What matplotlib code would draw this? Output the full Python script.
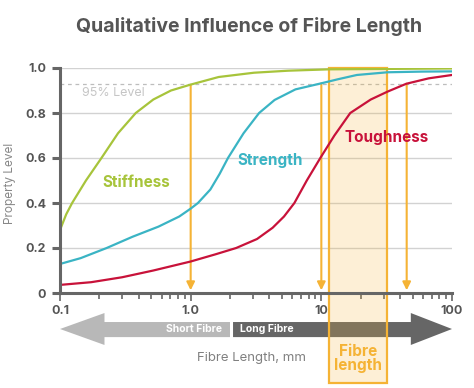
import matplotlib
matplotlib.use("Agg")
import matplotlib.pyplot as plt
from matplotlib.patches import Rectangle, Polygon

plt.rcParams['font.family'] = ['Inter', 'DejaVu Sans']

# values
stiff_x = [0.1, 0.1116, 0.1238, 0.158, 0.2076, 0.278, 0.38, 0.518, 0.707, 0.982, 1.638, 3.05, 5.57, 11.4, 100]
stiff_y = [0.28, 0.35, 0.40, 0.50, 0.60, 0.71, 0.80, 0.86, 0.90, 0.925, 0.96, 0.979, 0.988, 0.994, 0.998]

strength_x = [0.1, 0.144, 0.2276, 0.359, 0.567, 0.818, 1.0, 1.137, 1.415, 1.668, 1.93, 2.54, 3.34, 4.39,
              6.34, 10, 13.4, 18.7, 32.1, 59.1, 100]
strength_y = [0.129, 0.155, 0.20, 0.25, 0.295, 0.34, 0.375, 0.40, 0.46, 0.53, 0.60, 0.71, 0.80, 0.858,
              0.905, 0.932, 0.95, 0.969, 0.981, 0.984, 0.985]

tough_x = [0.1, 0.173, 0.299, 0.518, 1.0, 1.55, 2.23, 3.22, 4.24, 5.18, 6.22, 7.74, 9.82, 12.59, 16.65,
           23.9, 32.1, 44.7, 66.3, 100]
tough_y = [0.036, 0.048, 0.07, 0.10, 0.14, 0.172, 0.20, 0.24, 0.29, 0.34, 0.40, 0.50, 0.60, 0.70, 0.80,
           0.86, 0.895, 0.93, 0.954, 0.969]

level_95 = 0.93
arrow_x = [1.0, 10, 45]
arrow_top = [0.925, 0.932, 0.93]
box_x = [11.5, 32]
x_ticks = [0.1, 1, 10, 100]
x_ticklabels = ['0.1', '1.0', '10', '100']
y_ticks = [0, 0.2, 0.4, 0.6, 0.8, 1.0]
y_ticklabels = ['0', '0.2', '0.4', '0.6', '0.8', '1.0']

green = '#a7c43b'
teal = '#3ab4c4'
red = '#c8123a'
orange = '#f5b335'
dark = '#555555'

fig = plt.figure(figsize=(4.74, 3.88), dpi=100)
ax = fig.add_axes([60/474, 1-293/388, 392/474, 225/388])
ax.set_xscale('log')
ax.set_xlim(0.1, 100)
ax.set_ylim(0, 1.0)

# grid
for yv in y_ticks[1:]:
    ax.axhline(yv, color='#d2d2d2', lw=1, zorder=1)
ax.axhline(level_95, color='#bdbdbd', lw=0.9, ls=(0, (3, 3)), zorder=1)
ax.text(0.148, 0.89, '95% Level', color='#c6c6c6', fontsize=9, va='center', zorder=2)

# curves
ax.plot(stiff_x, stiff_y, color=green, lw=1.6, zorder=5, solid_joinstyle='round')
ax.plot(strength_x, strength_y, color=teal, lw=1.6, zorder=5, solid_joinstyle='round')
ax.plot(tough_x, tough_y, color=red, lw=1.6, zorder=5, solid_joinstyle='round')

ax.text(0.386, 0.489, 'Stiffness', color=green, fontsize=11, fontweight='bold', ha='center', va='center', zorder=6)
ax.text(4.09, 0.591, 'Strength', color=teal, fontsize=11, fontweight='bold', ha='center', va='center', zorder=6)
ax.text(31.6, 0.689, 'Toughness', color=red, fontsize=11, fontweight='bold', ha='center', va='center', zorder=6)

# vertical arrows
for xa, ya in zip(arrow_x, arrow_top):
    ax.annotate('', xy=(xa, 0.012), xytext=(xa, ya),
                arrowprops=dict(arrowstyle='-|>', color=orange, lw=1.5,
                                mutation_scale=12, shrinkA=0, shrinkB=0),
                zorder=4)

# short / long fibre band under the axis
light = Polygon([(0.1, -0.16), (0.219, -0.089), (0.219, -0.129), (2.0, -0.129),
                 (2.0, -0.196), (0.219, -0.196), (0.219, -0.231)],
                closed=True, color='#b8b8b8', lw=0, clip_on=False, zorder=2)
darkp = Polygon([(2.11, -0.129), (48.4, -0.129), (48.4, -0.089), (100, -0.16),
                 (48.4, -0.231), (48.4, -0.196), (2.11, -0.196)],
                closed=True, color='#666666', lw=0, clip_on=False, zorder=2)
ax.add_patch(light)
ax.add_patch(darkp)
ax.text(1.73, -0.162, 'Short Fibre', color='white', fontsize=7.5, fontweight='bold',
        ha='right', va='center', zorder=3)
ax.text(2.4, -0.162, 'Long Fibre', color='white', fontsize=7.5, fontweight='bold',
        ha='left', va='center', zorder=3)

# fibre length box
ax.add_patch(Rectangle((box_x[0], -0.4), box_x[1]-box_x[0], 1.4, facecolor=orange,
                       alpha=0.2, lw=0, clip_on=False, zorder=3))
ax.add_patch(Rectangle((box_x[0], -0.4), box_x[1]-box_x[0], 1.4, facecolor='none',
                       edgecolor=orange, lw=1.6, clip_on=False, zorder=4))
ax.text(19.2, -0.29, 'Fibre\nlength', color=orange, fontsize=11, fontweight='bold',
        ha='center', va='center', linespacing=0.95, zorder=6)

# axes styling
for s in ['top', 'right']:
    ax.spines[s].set_visible(False)
for s in ['left', 'bottom']:
    ax.spines[s].set_color('#666666')
    ax.spines[s].set_linewidth(2.2)
    ax.spines[s].set_zorder(7)
ax.set_xticks(x_ticks)
ax.set_xticklabels(x_ticklabels)
ax.set_yticks(y_ticks)
ax.set_yticklabels(y_ticklabels)
ax.tick_params(axis='y', length=6, width=2.2, color='#666666', pad=4,
               labelsize=9, labelcolor=dark)
ax.tick_params(axis='x', which='major', length=6, width=1.2, color='#666666', pad=3,
               labelsize=9, labelcolor=dark)
ax.tick_params(axis='x', which='minor', length=4, width=1.2, color='#666666')
for lbl in ax.get_xticklabels() + ax.get_yticklabels():
    lbl.set_fontweight('bold')

fig.text(249/474, 1-27/388, 'Qualitative Influence of Fibre Length', color=dark,
         fontsize=14, fontweight='bold', ha='center', va='center')
fig.text(10/474, 1-183/388, 'Property Level', color='#888888', fontsize=8.5,
         rotation=90, ha='center', va='center')
fig.text(252/474, 1-358/388, 'Fibre Length, mm', color='#808080', fontsize=9.5,
         ha='center', va='center')

fig.savefig('out.png', dpi=100)
